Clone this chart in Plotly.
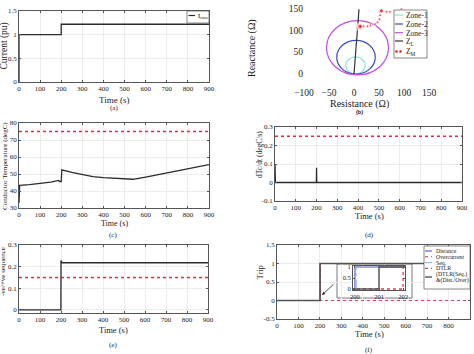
import plotly.graph_objects as go

W, H = 474, 354
def px(x): return x / W
def py(y): return 1 - y / H

SERIF = "Liberation Serif"

# ---------------- data ----------------
time_ticks = list(range(0, 901, 100))

# (a) current
t_a = [0, 0, 200, 200, 900]
i_rms = [0, 1.0, 1.0, 1.22, 1.22]

# (b) impedance plane
zone_names = ["Zone-1", "Zone-2", "Zone-3"]
zone_colors = ["#86e3d8", "#3a4cc0", "#c24be2"]
zone_cx = [3, 4, 7]
zone_cy = [19.5, 38.5, 60]
zone_r = [19.5, 38.5, 62]
zl_r = [0, 10]
zl_x = [0, 148]
zm_r = [8, 9, 10, 11, 12, 13, 19, 27, 33, 42, 47, 51, 52, 53, 54, 55, 65, 72, 82, 95]
zm_x = [106, 109, 107, 110, 108, 109, 109, 109, 111, 114, 118, 125, 134, 142, 145, 144, 142, 142, 144, 149]
zm_size = [5, 5, 5, 5, 5, 4, 3, 3, 3, 3, 3, 3, 3, 4, 4, 4, 3, 3, 3, 3]

# (c) conductor temperature
t_c = [0, 3, 50, 100, 150, 188, 192, 200, 203, 250, 300, 350, 400, 450, 500, 540, 600, 700, 800, 900]
temp = [33, 43.3, 43.7, 44.3, 45.2, 46.2, 45.6, 45.6, 52.5, 51.0, 49.6, 48.5, 47.9, 47.5, 47.2, 46.9, 48.2, 50.6, 53.0, 55.5]
temp_limit = 75

# (d) dTc/dt
t_d = [0, 0, 2, 199, 200, 201, 900]
dtdt = [0, 0.1, 0, 0, 0.08, 0, 0]
rate_limit = 0.25

# (e) negative / positive sequence ratio
t_e = [0, 199.5, 200, 203, 206, 900]
seq_ratio = [0, 0, 0.228, 0.222, 0.218, 0.218]
seq_limit = 0.15

# (f) trip signals
dist_t, dist_v = [0, 200, 200, 900], [0, 0, 1, 1]
over_t, over_v = [0, 202, 202, 900], [0, 0, 1, 1]
seqt_t, seqt_v = [0, 200.05, 200.05, 900], [0, 0, 1, 1]
dtlr_t, dtlr_v = [0, 900], [0, 0]
final_t, final_v = [0, 201, 201, 900], [0, 0, 1, 1]

# ---------------- figure ----------------
fig = go.Figure()
BLACK = "#2b2b2b"
RED = "#ec2a36"

def line(x, y, xa, ya, color=BLACK, width=1.3, dash="solid"):
    fig.add_trace(go.Scatter(x=x, y=y, mode="lines", xaxis=xa, yaxis=ya,
                             line=dict(color=color, width=width, dash=dash),
                             showlegend=False, hoverinfo="skip"))

# (a)
line(t_a, i_rms, "x", "y")
# (b)
line(zl_r, zl_x, "x2", "y2", color="#333333", width=1.2)
fig.add_trace(go.Scatter(x=zm_r, y=zm_x, mode="markers", xaxis="x2", yaxis="y2",
                         marker=dict(color="#e8202a", size=zm_size), showlegend=False))
# (c)
line([0, 900], [temp_limit, temp_limit], "x3", "y3", color=RED, width=1.3, dash="dot")
line(t_c, temp, "x3", "y3")
# (d)
line([0, 900], [rate_limit, rate_limit], "x4", "y4", color=RED, width=1.3, dash="dot")
line(t_d, dtdt, "x4", "y4")
# (e)
line([0, 900], [seq_limit, seq_limit], "x5", "y5", color=RED, width=1.3, dash="dot")
line(t_e, seq_ratio, "x5", "y5")
# (f) and inset
for xa, ya in (("x6", "y6"), ("x7", "y7")):
    line(dist_t, dist_v, xa, ya, color="#5b4fd0", width=1.1)
    line(seqt_t, seqt_v, xa, ya, color="#7fb2e8", width=1.1, dash="dashdot")
    line(over_t, over_v, xa, ya, color=RED, width=1.2, dash="dot")
    line(dtlr_t, dtlr_v, xa, ya, color="#e0406a", width=1.2, dash="dot")
    line(final_t, final_v, xa, ya, color="#555555", width=1.5)

axis_common = dict(showline=True, linecolor="#555555", linewidth=0.8, mirror="allticks",
                   ticks="inside", ticklen=2, tickcolor="#555555", showgrid=True,
                   gridcolor="#ececec", gridwidth=0.6, zeroline=False, automargin=False,
                   tickfont=dict(family=SERIF, size=7, color="#222222"))

def xax(dom, anchor, **kw):
    d = dict(axis_common); d.update(domain=[px(dom[0]), px(dom[1])], anchor=anchor); d.update(kw); return d
def yax(dom, anchor, **kw):
    d = dict(axis_common); d.update(domain=[py(dom[1]), py(dom[0])], anchor=anchor); d.update(kw); return d

fig.update_layout(
    template="none",
    font=dict(family=SERIF, size=7, color="#222222"),
    xaxis=xax((19, 209), "y", range=[0, 900], tickvals=time_ticks),
    yaxis=yax((11, 82), "x", range=[0, 1.5], tickvals=[0, 0.5, 1, 1.5], ticktext=["0", "0.5", "1", "1.5"]),
    xaxis2=dict(domain=[px(304), px(429)], anchor="y2", range=[-100, 150], tickvals=[-100, -50, 0, 50, 100, 150],
                showline=False, showgrid=False, zeroline=False, ticks="", automargin=False,
                tickfont=dict(family=SERIF, size=9.5, color="#222")),
    yaxis2=dict(domain=[py(85), py(8.3)], anchor="x2", range=[-25, 150], tickvals=[0, 50, 100, 150],
                showline=False, showgrid=False, zeroline=False, ticks="", automargin=False,
                tickfont=dict(family=SERIF, size=9.5, color="#222")),
    xaxis3=xax((19, 209), "y3", range=[0, 900], tickvals=time_ticks),
    yaxis3=yax((123, 208), "x3", range=[30, 80], tickvals=[30, 40, 50, 60, 70, 80]),
    xaxis4=xax((275, 462), "y4", range=[0, 900], tickvals=time_ticks),
    yaxis4=yax((127, 201), "x4", range=[-0.1, 0.3], tickvals=[-0.1, 0, 0.1, 0.2, 0.3],
               ticktext=["-0.1", "0", "0.1", "0.2", "0.3"]),
    xaxis5=xax((19, 208), "y5", range=[0, 900], tickvals=time_ticks),
    yaxis5=yax((245, 313), "x5", range=[-0.014, 0.3], tickvals=[0, 0.1, 0.2, 0.3],
               ticktext=["0", "0.1", "0.2", "0.3"]),
    xaxis6=xax((277, 470), "y6", range=[0, 900], tickvals=time_ticks),
    yaxis6=yax((245, 319), "x6", range=[-0.5, 1.5], tickvals=[-0.5, 0, 0.5, 1, 1.5],
               ticktext=["-0.5", "0", "0.5", "1", "1.5"]),
    xaxis7=xax((353, 405), "y7", range=[199.92, 202.08], tickvals=[200, 201, 202], showgrid=False,
               tickfont=dict(family=SERIF, size=6.5, color="#222")),
    yaxis7=yax((266, 290), "x7", range=[-0.045, 1.045], tickvals=[0, 0.5, 1], ticktext=["0", "0.5", "1"],
               showgrid=False, tickfont=dict(family=SERIF, size=6.5, color="#222")),
    width=W, height=H, autosize=False, margin=dict(l=0, r=0, t=0, b=0, pad=0),
    paper_bgcolor="white", plot_bgcolor="white", showlegend=False,
)

shapes = []
# zone circles in (b), drawn in data units
for cx, cy, r, c in zip(zone_cx, zone_cy, zone_r, zone_colors):
    shapes.append(dict(type="circle", xref="x2", yref="y2", x0=cx - r, x1=cx + r, y0=cy - r, y1=cy + r,
                       line=dict(color=c, width=1.2), layer="below"))

def prect(x0, y0, x1, y1, layer="above", lw=0.7):
    shapes.append(dict(type="rect", xref="paper", yref="paper", x0=px(x0), x1=px(x1), y0=py(y1), y1=py(y0),
                       fillcolor="white", line=dict(color="#555555", width=lw), layer=layer))
def pline(x0, x1, y, color, width=1.2, dash="solid"):
    shapes.append(dict(type="line", xref="paper", yref="paper", x0=px(x0), x1=px(x1), y0=py(y), y1=py(y),
                       line=dict(color=color, width=width, dash=dash)))
def pdot(x, y, r=1.3, color="#e8202a"):
    shapes.append(dict(type="circle", xref="paper", yref="paper", x0=px(x - r), x1=px(x + r), y0=py(y + r), y1=py(y - r),
                       fillcolor=color, line=dict(width=0)))

annotations = []
def text(x, y, s, size, anchor="center", angle=0, family=SERIF, color="#1a1a1a"):
    annotations.append(dict(x=px(x), y=py(y), xref="paper", yref="paper", text=s, showarrow=False,
                            xanchor=anchor, yanchor="middle", textangle=angle,
                            font=dict(family=family, size=size, color=color)))

# inset frame for (f)
prect(337, 264, 412, 298, layer="below", lw=0.8)

# legend (a)
prect(187, 11, 209, 23)
pline(188.5, 195, 15.5, BLACK)
text(196, 16.5, "I<sub>rms</sub>", 7, anchor="left")

# legend (b)
prect(394, 10, 427, 58)
leg_b_y = [15, 24, 32.7, 41]
for yy, c, name in zip(leg_b_y, zone_colors + ["#333333"], zone_names + ["Z<sub>L</sub>"]):
    pline(395, 403, yy, c)
    text(404, yy + 0.5, name, 7.5, anchor="left")
pdot(396.5, 51.5)
pdot(400.5, 51.5)
text(404, 52, "Z<sub>M</sub>", 7.5, anchor="left")

# legend (f)
prect(424, 246, 470, 289)
leg_f = [(251, "#5b4fd0", "solid", "Distance"), (256.8, RED, "dot", "Overcurrent"),
         (262.6, "#7fb2e8", "dashdot", "Seq."), (268.4, "#e0406a", "dot", "DTLR")]
for yy, c, d, name in leg_f:
    pline(425, 432, yy, c, width=1.1, dash=d)
    text(434, yy, name, 5.8, anchor="left")
pline(425, 432, 277, "#555555", width=1.4)
text(434, 274.3, "(DTLR(Seq.)", 5.8, anchor="left")
text(434, 280.1, "&amp;(Dist./Over)", 5.8, anchor="left")

# arrow from inset to the switching instant
annotations.append(dict(x=px(322), y=py(295), xref="paper", yref="paper", text=" ", showarrow=True,
                        ax=14, ay=-13, arrowhead=2, arrowsize=0.8, arrowwidth=0.8, arrowcolor="#222222",
                        font=dict(size=6)))

# axis titles and panel labels
text(114, 99.5, "Time (s)", 9)
text(114, 108.5, "(a)", 7)
text(3.5, 46, "Current (pu)", 9.5, angle=-90)

text(252, 48, "Reactance (Ω)", 10, angle=-90)
text(359, 104, "Resistance (Ω)", 10)
text(359, 111.5, "<b>(b)</b>", 5.5, family="Liberation Sans")

text(114, 223, "Time (s)", 8)
text(113, 235, "(c)", 7)
text(5, 166, "Conductor Temperature (degC)", 7, angle=-90)

text(369, 216, "Time (s)", 8.5)
text(369, 235, "(d)", 7)
text(259, 155, "dTc/dt (degC/s)", 7.5, angle=-90)

text(113, 329.5, "Time (s)", 8.5)
text(113, 345, "(e)", 7)
text(3, 272, "-ve/+ve sequence", 7, angle=-90)

text(369, 333.5, "Time (s)", 8.5)
text(369, 349.5, "(f)", 7)
text(259.5, 273, "Trip", 8.5, angle=-90)

fig.update_layout(shapes=shapes, annotations=annotations)
fig.write_html("out.html")
